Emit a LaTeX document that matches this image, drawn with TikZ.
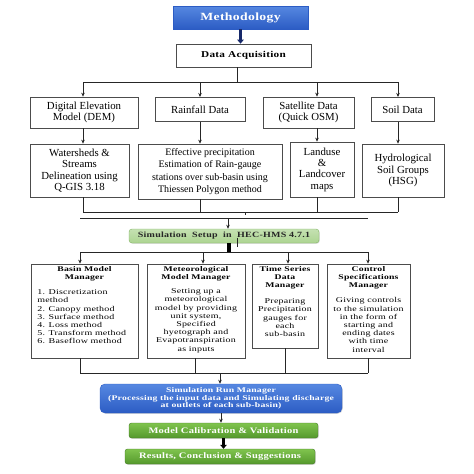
\documentclass[tikz,border=0pt]{standalone}
\usepackage{fontspec}
\setmainfont{Liberation Serif}
\newfontfamily\wfont[FakeStretch=1.25,LetterSpace=3]{Liberation Serif}
\newfontfamily\wfontB[FakeStretch=1.35,LetterSpace=3]{Liberation Serif}
\usetikzlibrary{arrows.meta,shadows,calc}
\definecolor{blueT}{RGB}{86,136,225}
\definecolor{blueB}{RGB}{44,92,196}
\definecolor{navy}{RGB}{22,40,105}
\definecolor{lgreen}{RGB}{172,212,145}
\definecolor{lgreenD}{RGB}{130,180,100}
\definecolor{gT}{RGB}{128,196,78}
\definecolor{gB}{RGB}{84,152,44}
\tikzset{
  ln/.style={draw=black!85, line width=0.8pt},
  arr/.style={ln, -{Stealth[length=4pt,width=3.5pt]}},
  fatarr/.style={draw=#1, line width=3.2pt, -{Triangle[length=4pt,width=6.5pt]}},
  fatbar/.style={draw=black, line width=3.5pt},
  box/.style={draw=black!70, line width=0.7pt, fill=white, inner sep=1pt, align=center,
    drop shadow={shadow xshift=0.8pt, shadow yshift=-0.8pt, opacity=0.25}},
  plain/.style={inner sep=0pt, align=center},
  fA/.style={font=\fontsize{10.8}{11.4}\selectfont},
  fB/.style={font=\fontsize{10}{12.3}\selectfont},
  ttl/.style={plain, font=\wfontB\bfseries\fontsize{7.2}{8}\selectfont},
  body/.style={plain, font=\wfontB\fontsize{7.4}{8.2}\selectfont},
  bluebox/.style={top color=blueT, bottom color=blueB, draw=blueB, text=white, align=center,
    inner sep=1pt, drop shadow={shadow xshift=0.8pt, shadow yshift=-0.8pt, opacity=0.3}},
  greenbox/.style={top color=gT, bottom color=gB, draw=gB!80!black, text=white, align=center,
    inner sep=1pt, rounded corners=2.5pt, drop shadow={shadow xshift=0.8pt, shadow yshift=-0.8pt, opacity=0.3}}
}
\begin{document}
\begin{tikzpicture}[x=1pt,y=-1pt]
\useasboundingbox (0,0) rectangle (474,474);
% top
\node[bluebox, minimum width=135pt, minimum height=23pt, font=\wfont\bfseries\fontsize{11}{13}\selectfont] (meth) at (240.5,17.5) {Methodology};
\node[box, minimum width=135pt, minimum height=23pt, font=\wfont\bfseries\fontsize{9}{11}\selectfont] (da) at (243.5,55.5) {Data Acquisition};
\draw[fatarr=navy] (meth.south) -- (meth.south |- da.north);
% row 1
\node[box, fA, minimum width=108pt, minimum height=31pt] (dem) at (84,112.5) {Digital Elevation\\Model (DEM)};
\node[box, fA, minimum width=90pt, minimum height=24pt, anchor=north] (rain) at (200,97) {Rainfall Data};
\node[box, fA, minimum width=91pt, minimum height=31pt] (sat) at (308.5,112.5) {Satellite Data\\(Quick OSM)};
\node[box, fA, minimum width=63pt, minimum height=24pt, anchor=north] (soil) at (402.5,97) {Soil Data};
% row 2
\node[box, fA, minimum width=99pt, minimum height=53pt] (ws) at (79.5,170.5) {Watersheds \&\\Streams\\Delineation using\\Q-GIS 3.18};
\node[box, fB, minimum width=144pt, minimum height=55pt] (ep) at (210,171.5) {Effective precipitation\\Estimation of Rain-gauge\\stations over sub-basin using\\Thiessen Polygon method};
\node[box, fA, minimum width=64pt, minimum height=55pt] (lu) at (322,169.5) {Landuse\\\&\\Landcover\\maps};
\node[box, fA, minimum width=82pt, minimum height=53pt] (hsg) at (403,170.5) {Hydrological\\Soil Groups\\(HSG)};
% bus 1
\coordinate (j1) at (237,82);
\coordinate (k1) at (83,82);
\coordinate (k2) at (200,82);
\coordinate (k3) at (317,82);
\coordinate (k4) at (398,82);
\draw[ln] (da.south -| j1) -- (j1);
\draw[ln] (k1) -- (k4);
\draw[arr] (k1) -- (k1 |- dem.north);
\draw[arr] (k2) -- (k2 |- rain.north);
\draw[arr] (k3) -- (k3 |- sat.north);
\draw[arr] (k4) -- (k4 |- soil.north);
\draw[arr] (k1 |- dem.south) -- (k1 |- ws.north);
\draw[arr] (k2 |- rain.south) -- (k2 |- ep.north);
\draw[arr] (k3 |- sat.south) -- (k3 |- lu.north);
\draw[arr] (k4 |- soil.south) -- (k4 |- hsg.north);
% bus 2
\coordinate (m1) at (83,212);
\coordinate (m4) at (398,212);
\coordinate (t1) at (245,212);
\draw[ln] (k1 |- ws.south) -- (m1);
\draw[ln] (k2 |- ep.south) -- (k2 |- m1);
\draw[ln] (k3 |- lu.south) -- (k3 |- m1);
\draw[ln] (k4 |- hsg.south) -- (m4);
\draw[ln] (m1) -- (m4);
\draw[ln, line width=0.6pt] (t1) -- ++(0,3);
\coordinate (n1) at (80,218);
\coordinate (n2) at (368,218);
\coordinate (n3) at (228,218);
\draw[ln, line width=0.6pt] (n1) -- (n2);
% simulation setup
\node[top color=lgreen!70!white, bottom color=lgreen, draw=lgreenD, rounded corners=3pt, inner sep=1pt,
  minimum width=190pt, minimum height=14pt, font=\wfont\bfseries\fontsize{8}{9}\selectfont, text=black!85,
  drop shadow={shadow xshift=0.8pt, shadow yshift=-0.8pt, opacity=0.25}] (ss) at (224,236) {Simulation\ \ Setup\ \ in\ \ HEC-HMS 4.7.1};
\draw[arr] (n3) -- (n3 |- ss.north);
\coordinate (p0) at (229,252);
\coordinate (q0) at (237,247);
\draw[fatbar] (p0 |- ss.south) -- (p0);
\draw[ln, line width=0.6pt] (q0) -- ++(0,-9);
% row 3
\node[box, minimum width=107pt, minimum height=94pt] (bm) at (84.5,311) {};
\node[box, minimum width=98pt, minimum height=94pt] (mm) at (196,311) {};
\node[box, minimum width=66pt, minimum height=84pt] (ts) at (285,306) {};
\node[box, minimum width=83pt, minimum height=94pt] (cs) at (368.5,311) {};
\node[ttl, anchor=north] (bmt) at ($(bm.north)+(0,3)$) {Basin Model\\Manager};
\node[body, anchor=north west, align=left] (bmb) at ($(bm.north west)+(6.5,26)$) {1. Discretization\\method\\2. Canopy method\\3. Surface method\\4. Loss method\\5. Transform method\\6. Baseflow method};
\node[ttl, anchor=north] (mmt) at ($(mm.north)+(0,3)$) {Meteorological\\Model Manager};
\node[body, anchor=north] (mmb) at ($(mm.north)+(0,25)$) {Setting up a\\meteorological\\model by providing\\unit system,\\Specified\\hyetograph and\\Evapotranspiration\\as inputs};
\node[ttl, anchor=north] (tst) at ($(ts.north)+(0,3)$) {Time Series\\Data\\Manager};
\node[body, anchor=north] (tsb) at ($(ts.north)+(0,35)$) {Preparing\\Precipitation\\gauges for\\each\\sub-basin};
\node[ttl, anchor=north] (cst) at ($(cs.north)+(0,3)$) {Control\\Specifications\\Manager};
\node[body, anchor=north] (csb) at ($(cs.north)+(0,34)$) {Giving controls\\to the simulation\\in the form of\\starting and\\ending dates\\with time\\interval};
% bus 3
\coordinate (p1) at (80,252);
\coordinate (p2) at (203,252);
\coordinate (p3) at (288,252);
\coordinate (p4) at (368,252);
\draw[ln] (p1) -- (p4);
\draw[arr] (p1) -- (p1 |- bm.north);
\draw[arr] (p2) -- (p2 |- mm.north);
\draw[arr] (p3) -- (p3 |- ts.north);
\draw[arr] (p4) -- (p4 |- cs.north);
% bus 4
\coordinate (r1) at (80,373);
\coordinate (r2) at (195,373);
\coordinate (r3) at (285,373);
\coordinate (r4) at (368,373);
\coordinate (r0) at (220,373);
\draw[ln] (r1 |- bm.south) -- (r1);
\draw[ln] (r2 |- mm.south) -- (r2);
\draw[ln] (r3 |- ts.south) -- (r3);
\draw[ln] (r4 |- cs.south) -- (r4);
\draw[ln] (r1) -- (r4);
% bottom
\node[bluebox, rounded corners=5pt, minimum width=242pt, minimum height=29pt, font=\wfontB\bfseries\fontsize{7.2}{7.6}\selectfont] (srm) at (221,398.5) {Simulation Run Manager\\(Processing the input data and Simulating discharge\\at outlets of each sub-basin)};
\draw[arr] (r0) -- (r0 |- srm.north);
\node[greenbox, minimum width=189pt, minimum height=15pt, font=\wfont\bfseries\fontsize{8.4}{9}\selectfont] (mcv) at (223.5,430.5) {Model Calibration \& Validation};
\draw[arr] (srm.south) -- (srm.south |- mcv.north);
\node[greenbox, minimum width=190pt, minimum height=15pt, font=\wfont\bfseries\fontsize{8.4}{9}\selectfont] (res) at (220,456.5) {Results, Conclusion \& Suggestions};
\draw[fatarr=black] (mcv.south) -- (mcv.south |- res.north);
\end{tikzpicture}
\end{document}
